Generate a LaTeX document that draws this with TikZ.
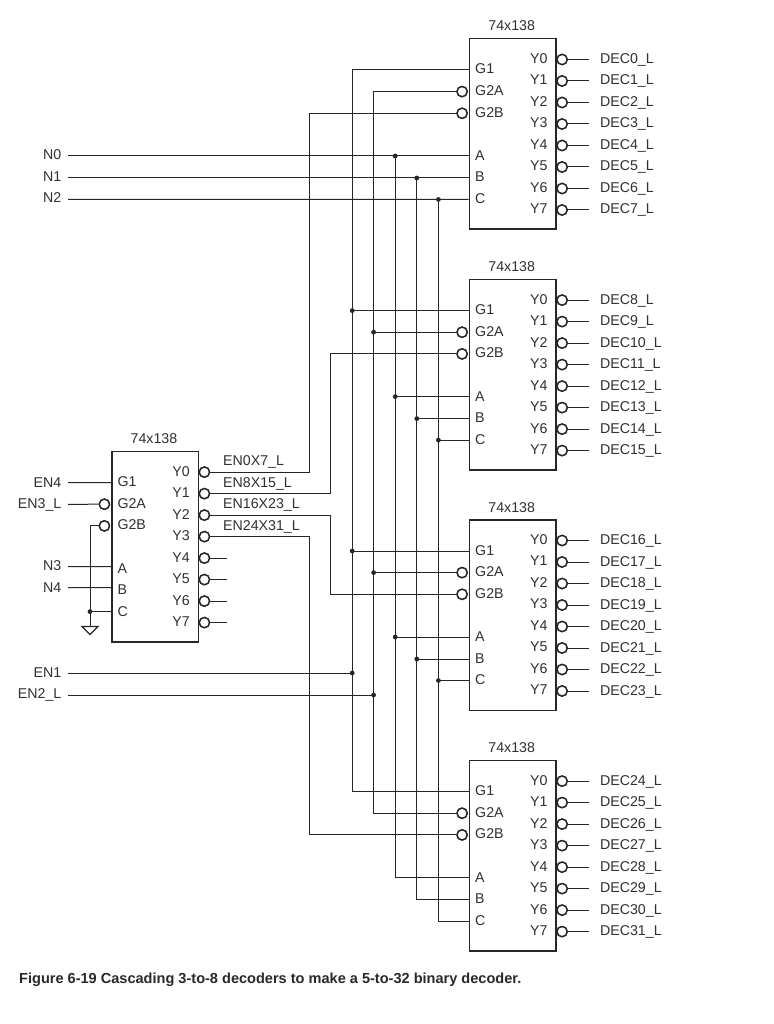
\documentclass[tikz,border=0pt]{standalone}
\usepackage{fontspec}
\setmainfont{Liberation Sans}
\usetikzlibrary{calc}
\definecolor{ink}{HTML}{262626}
\definecolor{txt}{HTML}{303030}
\tikzset{
  wire/.style={draw=ink,line width=1pt,line cap=butt,line join=miter},
  box/.style={draw=ink,line width=1.5pt,fill=white,rectangle,inner sep=0pt,minimum width=86.5pt,minimum height=190.5pt,anchor=north west},
  bub/.style={draw=ink,line width=1.4pt,fill=white,circle,inner sep=0pt,minimum size=10.2pt},
  dot/.style={fill=ink,circle,inner sep=0pt,minimum size=4.8pt},
  lab/.style={text=txt,inner sep=0pt,font=\fontsize{14.2}{16}\selectfont},
  figcap/.style={text=txt!85!black,inner sep=0pt,font=\fontsize{14.55}{16}\bfseries\selectfont,anchor=base west},
}
% name, left x, top y, wire offsets of A, B, C
\newcommand\declare[6]{%
  \node[box] (#1) at (#2,#3) {};
  \node[lab,anchor=base] (#1t) at ($(#2,#3)+(43,-7)$) {74x138};
  \coordinate (#1pG1) at ($(#2,#3)+(0,32)$);
  \coordinate (#1pG2A) at ($(#2,#3)+(0,53.6)$);
  \coordinate (#1pG2B) at ($(#2,#3)+(0,75.3)$);
  \coordinate (#1pA) at ($(#2,#3)+(0,#4)$);
  \coordinate (#1pB) at ($(#2,#3)+(0,#5)$);
  \coordinate (#1pC) at ($(#2,#3)+(0,#6)$);
  \node[bub] (#1bA) at ($(#2,#3)+(-6.6,53.6)$) {};
  \node[bub] (#1bB) at ($(#2,#3)+(-6.6,75.3)$) {};
  \node[lab,anchor=base west] (#1lG1) at ($(#2,#3)+(6.3,36)$) {G1};
  \node[lab,anchor=base west] (#1lG2A) at ($(#2,#3)+(6.3,57.7)$) {G2A};
  \node[lab,anchor=base west] (#1lG2B) at ($(#2,#3)+(6.3,79.2)$) {G2B};
  \node[lab,anchor=base west] (#1lA) at ($(#2,#3)+(6.3,122.5)$) {A};
  \node[lab,anchor=base west] (#1lB) at ($(#2,#3)+(6.3,144)$) {B};
  \node[lab,anchor=base west] (#1lC) at ($(#2,#3)+(6.3,165.5)$) {C};
  \foreach \i in {0,...,7} {
    \node[bub] (#1b\i) at ($(#2,#3)+(93.4,21.5+21.5*\i)$) {};
    \node[lab,anchor=base east] (#1y\i) at ($(#2,#3)+(79,25.4+21.5*\i)$) {Y\i};
  }
}
% block name, first DEC number
\newcommand\decoutputs[2]{%
  \foreach \i in {0,...,7} {
    \pgfmathtruncatemacro\n{#2+\i}
    \node[lab,anchor=base west] (#1o\i) at ($(#1b\i)+(37.8,4)$) {DEC\n\_L};
    \coordinate (#1e\i) at ($(#1b\i)+(27,0)$);
    \draw[wire] (#1b\i) -- (#1e\i);
  }
}
\begin{document}
\begin{tikzpicture}[x=1pt,y=-1pt]
\useasboundingbox (0,0) rectangle (773,1024);
\fill[white] (0,0) rectangle (773,1024);

% input sources
\coordinate (sN0) at (68,156);
\coordinate (sN1) at (68,178);
\coordinate (sN2) at (68,199.3);
\coordinate (sEN1) at (68,673);
\coordinate (sEN2) at (68,695);
\coordinate (sEN4) at (68,482.7);
\coordinate (sEN3) at (68,504.3);
\coordinate (sN3) at (68,566.7);
\coordinate (sN4) at (68,587.7);
\node[lab,anchor=base east] (tN0) at (61.5,160) {N0};
\node[lab,anchor=base east] (tN1) at (61.5,182) {N1};
\node[lab,anchor=base east] (tN2) at (61.5,203) {N2};
\node[lab,anchor=base east] (tEN4) at (61.5,487) {EN4};
\node[lab,anchor=base east] (tEN3) at (61.5,508.5) {EN3\_L};
\node[lab,anchor=base east] (tN3) at (61.5,570.5) {N3};
\node[lab,anchor=base east] (tN4) at (61.5,592) {N4};
\node[lab,anchor=base east] (tEN1) at (61.5,677) {EN1};
\node[lab,anchor=base east] (tEN2) at (61.5,698.5) {EN2\_L};

\coordinate (xG) at (352.2,0);
\coordinate (xH) at (373.6,0);
\coordinate (xA) at (395.2,0);
\coordinate (xB) at (416.8,0);
\coordinate (xC) at (438.4,0);
\coordinate (xP) at (309,0);
\coordinate (xQ) at (330.8,0);

\declare{s}{111}{450.6}{116}{137}{161}
\declare{d}{468.7}{38}{118}{140}{161.5}
\declare{e}{468.7}{278.6}{118}{140}{161.5}
\declare{f}{468.7}{519}{118}{140}{161.5}
\declare{g}{468.7}{759.6}{118}{140}{161.5}

\decoutputs{d}{0}
\decoutputs{e}{8}
\decoutputs{f}{16}
\decoutputs{g}{24}

% buses of the four big decoders
\draw[wire] (dpG1) -- (dpG1 -| xG) -- (gpG1 -| xG) -- (gpG1);
\draw[wire] (dbA) -- (dpG2A -| xH) -- (gpG2A -| xH) -- (gbA);
\draw[wire] (sN0) -- (dpA);
\draw[wire] (sN1) -- (dpB);
\draw[wire] (sN2) -- (dpC);
\draw[wire] (dpA -| xA) -- (gpA -| xA) -- (gpA);
\draw[wire] (dpB -| xB) -- (gpB -| xB) -- (gpB);
\draw[wire] (dpC -| xC) -- (gpC -| xC) -- (gpC);
\foreach \b in {e,f} {
  \draw[wire] (\b pG1 -| xG) -- (\b pG1);
  \draw[wire] (\b pG2A -| xH) -- (\b bA);
  \draw[wire] (\b pA -| xA) -- (\b pA);
  \draw[wire] (\b pB -| xB) -- (\b pB);
  \draw[wire] (\b pC -| xC) -- (\b pC);
  \node[dot] (\b jG) at (\b pG1 -| xG) {};
  \node[dot] (\b jH) at (\b pG2A -| xH) {};
  \node[dot] (\b jA) at (\b pA -| xA) {};
  \node[dot] (\b jB) at (\b pB -| xB) {};
  \node[dot] (\b jC) at (\b pC -| xC) {};
}
\node[dot] (jdA) at (dpA -| xA) {};
\node[dot] (jdB) at (dpB -| xB) {};
\node[dot] (jdC) at (dpC -| xC) {};

% enables
\draw[wire] (sEN1) -- (sEN1 -| xG);
\draw[wire] (sEN2) -- (sEN2 -| xH);
\node[dot] (jEN1) at (sEN1 -| xG) {};
\node[dot] (jEN2) at (sEN2 -| xH) {};

% small decoder inputs
\draw[wire] (sEN4) -- (spG1);
\draw[wire] (sEN3) -- (sbA);
\draw[wire] (sN3) -- (spA);
\draw[wire] (sN4) -- (spB);
\coordinate (gnd) at (90,626.5);
\draw[wire] (sbB) -- (sbB -| gnd) -- (gnd);
\draw[wire] (spC -| gnd) -- (spC);
\node[dot] (jC) at (spC -| gnd) {};
\draw[wire,line width=1.2pt] (gnd) +(-8,0) -- +(8,0) -- +(0,8) -- cycle;

% small decoder outputs
\draw[wire] (sb0) -- (sb0 -| xP) -- (dbB -| xP) -- (dbB);
\draw[wire] (sb1) -- (sb1 -| xQ) -- (ebB -| xQ) -- (ebB);
\draw[wire] (sb2) -- (sb2 -| xQ) -- (fbB -| xQ) -- (fbB);
\draw[wire] (sb3) -- (sb3 -| xP) -- (gbB -| xP) -- (gbB);
\foreach \i in {4,...,7} {
  \coordinate (se\i) at ($(sb\i)+(22.5,0)$);
  \draw[wire] (sb\i) -- (se\i);
}

% redraw bubbles over their wires
\foreach \b in {d,e,f,g,s} {
  \node[bub] at (\b bA) {};
  \node[bub] at (\b bB) {};
  \foreach \i in {0,...,7} { \node[bub] at (\b b\i) {}; }
}

% output names of the small decoder
\node[lab,anchor=base west] (w0) at (223,465.5) {EN0X7\_L};
\node[lab,anchor=base west] (w1) at (223,487) {EN8X15\_L};
\node[lab,anchor=base west] (w2) at (223,508.5) {EN16X23\_L};
\node[lab,anchor=base west] (w3) at (223,530) {EN24X31\_L};

\node[figcap] (caption) at (19,983) {Figure 6-19 Cascading 3-to-8 decoders to make a 5-to-32 binary decoder.};
\end{tikzpicture}
\end{document}
